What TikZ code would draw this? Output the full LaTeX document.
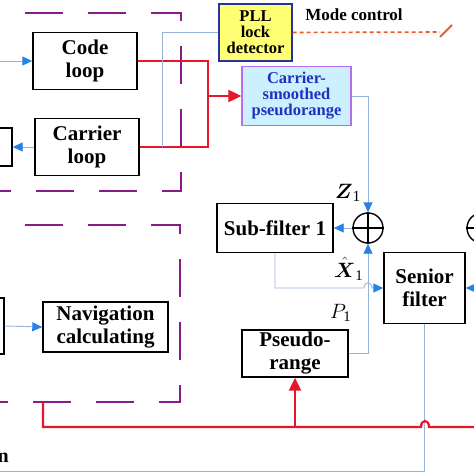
\documentclass[tikz,border=0pt]{standalone}
\usepackage{fontspec}
\setmainfont{Liberation Serif}
\usepackage{amsmath}
\usepackage{xcolor}
\usetikzlibrary{arrows.meta, positioning, calc}

\definecolor{loopPurple}{RGB}{139,26,137}
\definecolor{sigRed}{RGB}{232,22,40}
\definecolor{lineBlue}{RGB}{150,180,215}
\definecolor{arrowBlue}{RGB}{40,130,230}
\definecolor{lockFill}{RGB}{255,255,115}
\definecolor{lockDraw}{RGB}{40,50,160}
\definecolor{smoothFill}{RGB}{205,240,255}
\definecolor{smoothDraw}{RGB}{180,110,240}
\definecolor{smoothText}{RGB}{30,50,190}
\definecolor{modeRed}{RGB}{240,90,40}

\tikzset{
  blockbox/.style={rectangle, draw=black, line width=1.4pt, fill=white, align=center,
    inner sep=0pt, font=\fontsize{21}{23}\selectfont\bfseries},
  smallbox/.style={blockbox, font=\fontsize{16.5}{16}\selectfont\bfseries},
  sumnode/.style={circle, draw=black, line width=1.4pt, minimum size=30pt, inner sep=0pt},
  thinblue/.style={draw=lineBlue, line width=0.9pt},
  bluearrow/.style={thinblue, -{Triangle[length=10pt,width=9pt,color=arrowBlue]}},
  redline/.style={draw=sigRed, line width=2.2pt},
  redarrow/.style={redline, -{Triangle[length=13pt,width=12pt]}},
  groupbox/.style={draw=loopPurple, line width=2.6pt, dash pattern=on 38pt off 25pt},
  modedash/.style={draw=modeRed, line width=1.6pt, dash pattern=on 4pt off 3pt},
}

\begin{document}
\begin{tikzpicture}[x=1pt, y=-1pt]
    \useasboundingbox (0,0) rectangle (474,474);
    \clip (0,0) rectangle (474,474);

    % dashed groups
    \draw[groupbox] (-38,13) -- (181,13) -- (181,191) -- (-38,191);
    \draw[groupbox] (-38,225) -- (180,225) -- (180,402) -- (-38,402);

    % tracking loops
    \node[blockbox, minimum width=104pt, minimum height=57pt] (code) at (85,61) {Code\\loop};
    \node[blockbox, minimum width=104pt, minimum height=57pt] (carrier) at (87,147) {Carrier\\loop};
    \node[blockbox, minimum width=64pt, minimum height=38pt] (nco) at (-20,147) {};
    \node[smallbox, fill=lockFill, draw=lockDraw, minimum width=73pt, minimum height=57pt] (pll) at (255.5,32.5) {PLL\\lock\\detector};
    \node[font=\fontsize{17}{17}\selectfont\bfseries] (modelbl) at (354,15) {Mode control};
    \node[smallbox, fill=smoothFill, draw=smoothDraw, text=smoothText, minimum width=109pt, minimum height=59pt] (csp) at (296.5,96) {Carrier-\\smoothed\\pseudorange};

    % navigation
    \node[blockbox, minimum width=68pt, minimum height=56pt] (posbox) at (-30,326) {};
    \node[blockbox, minimum width=125pt, minimum height=50pt] (nav) at (105.5,327) {Navigation\\calculating};
    \node[font=\fontsize{20}{20}\selectfont\bfseries, anchor=base east, inner sep=0pt] (cutlbl) at (9,462) {n};

    % filters
    \node[blockbox, minimum width=116pt, minimum height=49pt] (sub1) at (275,228) {Sub-filter 1};
    \node[sumnode] (sum) at (368,228) {};
    \draw[line width=1.4pt] (sum.north) -- (sum.south) (sum.west) -- (sum.east);
    \node[sumnode] (sumb) at (482,228) {};
    \draw[line width=1.4pt] (sumb.north) -- (sumb.south) (sumb.west) -- (sumb.east);
    \node[blockbox, minimum width=81pt, minimum height=71pt] (senior) at (424.5,288) {Senior\\filter};
    \node[blockbox, minimum width=106pt, minimum height=47pt] (pr) at (295,353.5) {Pseudo-\\range};

    \node[font=\fontsize{22}{22}\selectfont, anchor=base west, inner sep=0pt] (zlbl) at (335,198) {$\boldsymbol{Z}_{\mathrm{1}}$};
    \node[font=\fontsize{21}{21}\selectfont, anchor=base west, inner sep=0pt] (xlbl) at (334,277) {$\hat{\boldsymbol{X}}_{\mathrm{1}}$};
    \node[font=\fontsize{21}{21}\selectfont, anchor=base west, inner sep=0pt] (plbl) at (330,318) {$P_{\mathrm{1}}$};

    % loop signals
    \coordinate (codein) at (-10,61);
    \coordinate (redturn) at (208,147);
    \coordinate (redsplit) at (208,96);
    \coordinate (locktap) at (162,147);
    \coordinate (modeend) at (440,32);
    \draw[bluearrow] (codein) -- (code.west);
    \draw[bluearrow] (carrier.west) -- (nco.east);
    \draw[redline] (code.east) -| (redturn) -- (carrier.east);
    \draw[redarrow] (redsplit) -- (csp.west);
    \draw[thinblue] (pll.west) -| (locktap);
    \draw[modedash] (pll.east) -- (modeend);
    \draw[modeRed, line width=1.8pt] ($(modeend)+(0,5)$) -- ($(modeend)+(12,-7)$);

    % filter signals
    \coordinate (seniorin) at (490,288);
    \coordinate (busleft) at (-10,471);
    \coordinate (navout) at (43,402);
    \coordinate (busright) at (490,427);
    \draw[bluearrow] (csp.east) -| (sum.north);
    \draw[bluearrow] (sum.west) -- (sub1.east);
    \draw[bluearrow] (pr.east) -| (sum.south);
    \draw[bluearrow] (sub1.south) |- (364,288) .. controls (364,281) and (372,281) .. (372,288) -- (senior.west);
    \draw[bluearrow] (seniorin) -- (senior.east);
    \draw[bluearrow] (posbox.east) -- (nav.west);
    \draw[thinblue] (senior.south) |- (busleft);
    \draw[redline] (navout) |- (421,427) .. controls (421,419) and (429,419) .. (429,427) -- (busright);
    \draw[redarrow] (pr.south |- busright) -- (pr.south);
\end{tikzpicture}
\end{document}
